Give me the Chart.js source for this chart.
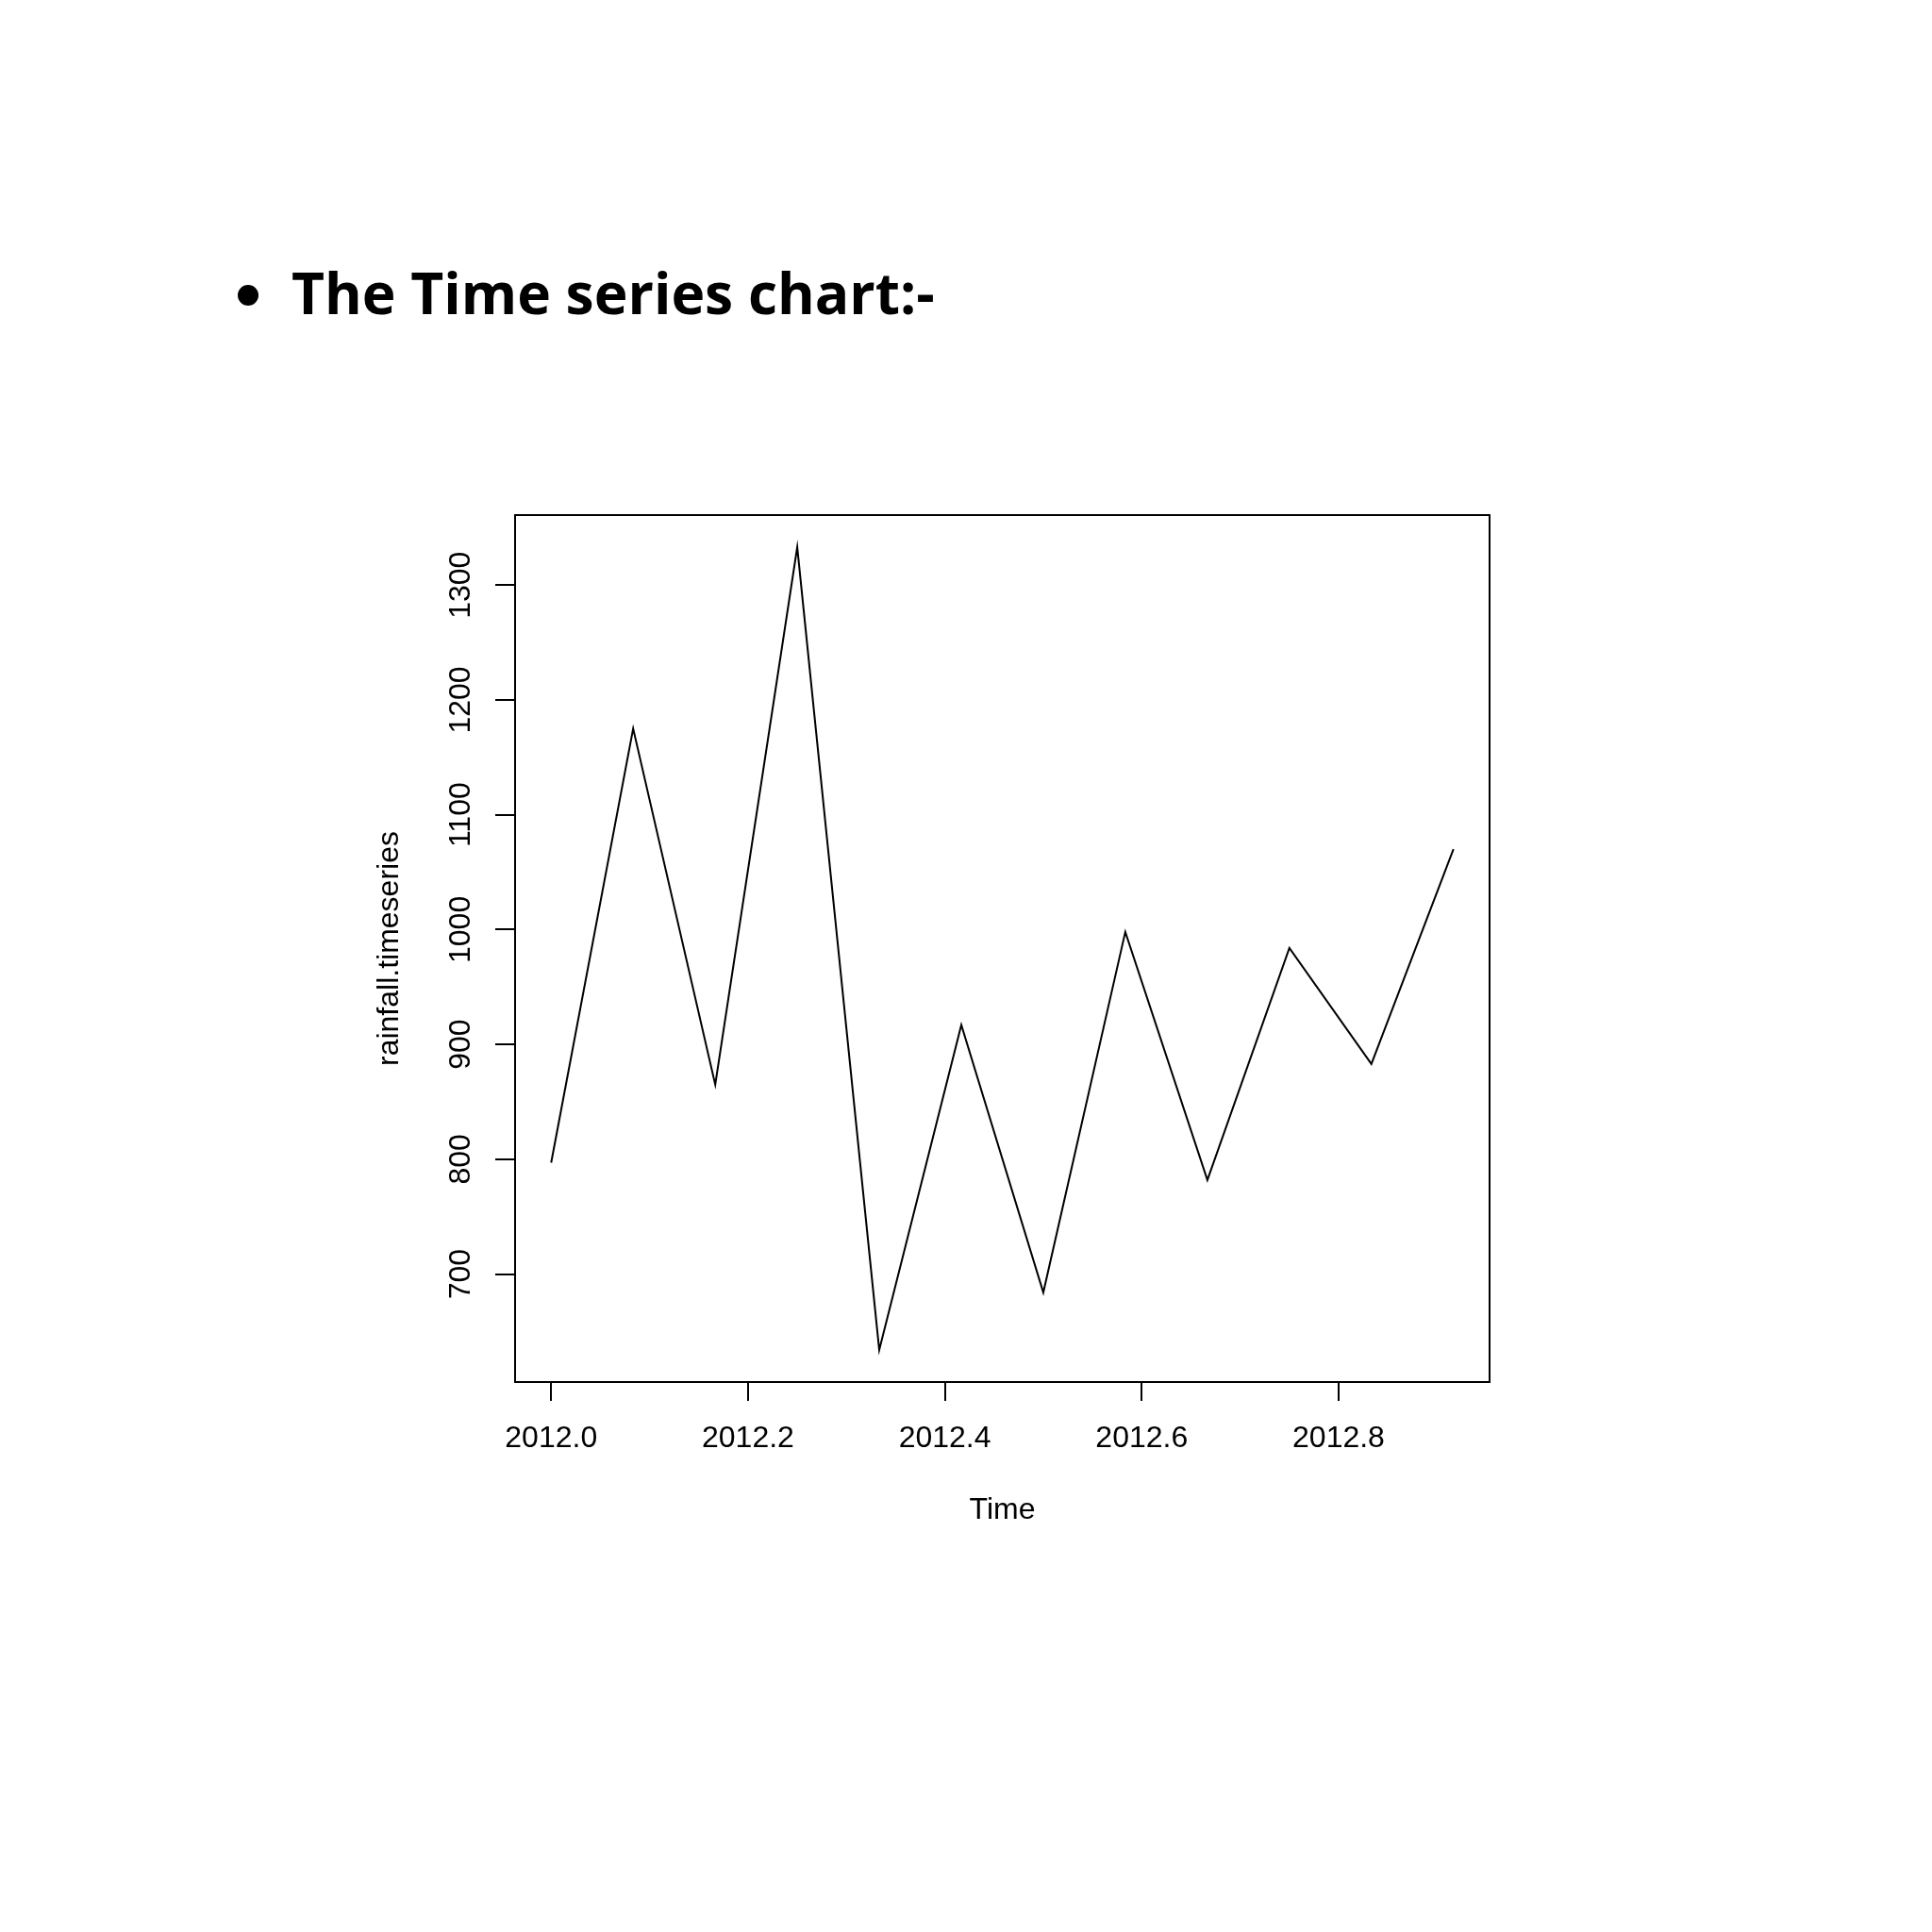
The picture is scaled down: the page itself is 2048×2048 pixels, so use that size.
<!DOCTYPE html>
<html>
<head>
<meta charset="utf-8">
<title>The Time series chart</title>
<script src="https://cdn.jsdelivr.net/npm/chart.js@4.4.1/dist/chart.umd.min.js"></script>
<style>
  html, body { margin: 0; padding: 0; background: #ffffff; }
  #page { position: relative; width: 2048px; height: 2048px; overflow: hidden; }
  #bullet { position: absolute; left: 252px; top: 302px; width: 22px; height: 22px; border-radius: 50%; background: #000; }
  #heading { position: absolute; left: 309px; top: 280px; margin: 0; font: bold 60.5px 'Open Sans', 'Noto Sans', sans-serif; line-height: 1; color: #000; white-space: nowrap; }
  #chart { position: absolute; left: 0; top: 0; }
</style>
</head>
<body>
<div id="page">
  <div id="bullet"></div>
  <p id="heading">The Time series chart:-</p>
  <canvas id="chart" width="2048" height="2048"></canvas>
</div>
<script>
// Data (monthly series, 2012)
const timePoints = [2012.0000, 2012.0833, 2012.1667, 2012.2500, 2012.3333, 2012.4167,
                    2012.5000, 2012.5833, 2012.6667, 2012.7500, 2012.8333, 2012.9167];
const rainfall   = [797, 1175, 865, 1333, 634, 917, 684, 998, 782, 984, 883, 1070];

// Tick labels
const xTicks = [2012.0, 2012.2, 2012.4, 2012.6, 2012.8];
const yTicks = [700, 800, 900, 1000, 1100, 1200, 1300];

// R style axis ranges (4% added on each side)
const xPad = (timePoints[timePoints.length - 1] - timePoints[0]) * 0.04;
const yPad = (Math.max(...rainfall) - Math.min(...rainfall)) * 0.04;
const xMin = timePoints[0] - xPad;
const xMax = timePoints[timePoints.length - 1] + xPad;
const yMin = Math.min(...rainfall) - yPad;
const yMax = Math.max(...rainfall) + yPad;

const axisFont = { family: "'Liberation Sans', Arial, sans-serif", size: 32 };
const ink = '#000000';

const frameBorder = { display: true, color: ink, width: 2 };

new Chart(document.getElementById('chart'), {
  type: 'line',
  data: {
    datasets: [{
      data: timePoints.map((t, i) => ({ x: t, y: rainfall[i] })),
      borderColor: ink,
      borderWidth: 2,
      pointRadius: 0,
      tension: 0,
      fill: false,
    }],
  },
  options: {
    responsive: false,
    animation: false,
    layout: { padding: { left: 380, top: 546, right: 469, bottom: 428 } },
    plugins: { legend: { display: false }, tooltip: { enabled: false } },
    scales: {
      x: {
        type: 'linear', position: 'bottom', min: xMin, max: xMax,
        afterBuildTicks: (s) => { s.ticks = xTicks.map((v) => ({ value: v })); },
        afterFit: (s) => { s.height = 155; },
        ticks: { font: axisFont, color: ink, padding: 21, maxRotation: 0, autoSkip: false,
                 callback: (v) => Number(v).toFixed(1) },
        grid: { drawOnChartArea: false, tickLength: 20, lineWidth: 2, color: ink },
        border: frameBorder,
        title: { display: true, text: 'Time', font: axisFont, color: ink, padding: 0 },
      },
      y: {
        type: 'linear', position: 'left', min: yMin, max: yMax,
        afterBuildTicks: (s) => { s.ticks = yTicks.map((v) => ({ value: v })); },
        afterFit: (s) => { s.width = 166; },
        ticks: { font: axisFont, color: ink, padding: 0, minRotation: 90, maxRotation: 90,
                 crossAlign: 'center', autoSkip: false, callback: (v) => String(v) },
        grid: { drawOnChartArea: false, tickLength: 21, lineWidth: 2, color: ink },
        border: frameBorder,
        title: { display: true, text: 'rainfall.timeseries', font: axisFont, color: ink,
                 padding: { top: 14, bottom: 0 } },
      },
      // top and right edges of the box
      xTop: {
        type: 'linear', position: 'top', min: xMin, max: xMax,
        afterFit: (s) => { s.height = 0; },
        ticks: { display: false },
        grid: { drawOnChartArea: false, drawTicks: false },
        border: frameBorder,
      },
      yRight: {
        type: 'linear', position: 'right', min: yMin, max: yMax,
        afterFit: (s) => { s.width = 0; },
        ticks: { display: false },
        grid: { drawOnChartArea: false, drawTicks: false },
        border: frameBorder,
      },
    },
  },
});
</script>
</body>
</html>
